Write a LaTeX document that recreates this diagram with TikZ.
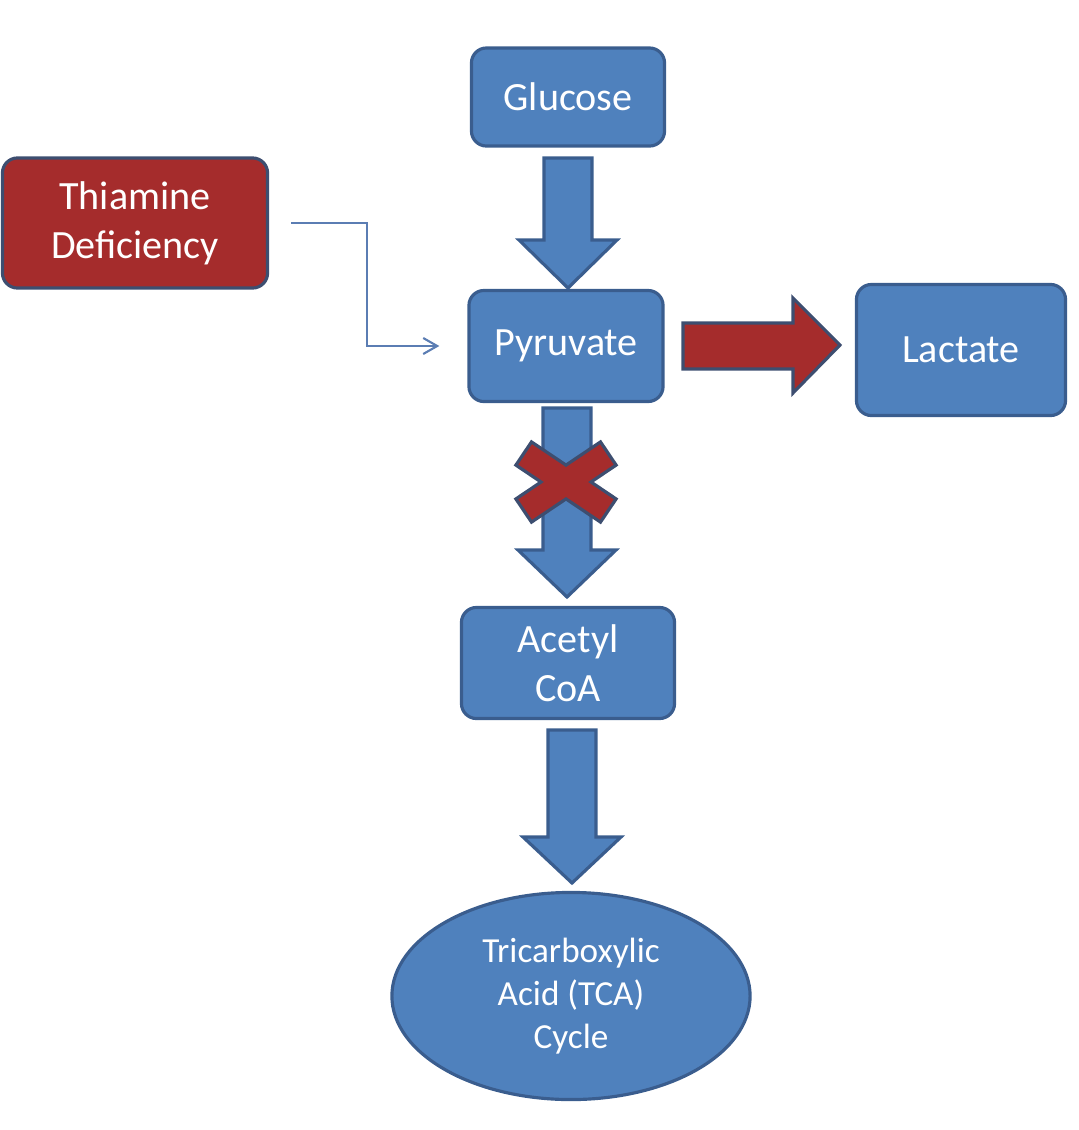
\documentclass[tikz,border=0pt]{standalone}
\usepackage{fontspec}
\setmainfont{Carlito}
\usetikzlibrary{shapes.geometric,arrows.meta}
\definecolor{boxblue}{HTML}{4F81BD}
\definecolor{boxedge}{HTML}{3A5D8E}
\definecolor{boxred}{HTML}{A52C2C}
\definecolor{rededge}{HTML}{3D4E70}
\definecolor{linkblue}{HTML}{5B7DB3}
\begin{document}
\begin{tikzpicture}[x=0.01cm,y=-0.01cm,
		stage/.style={draw=boxedge,line width=0.9pt,fill=boxblue,rounded corners=0.15cm,
			text=white,align=center,inner sep=0pt,font=\fontsize{11.4}{14}\selectfont},
		cause/.style={stage,fill=boxred,draw=rededge},
		cycle/.style={stage,ellipse,font=\fontsize{10}{12.2}\selectfont},
		fatarrow/.style={draw=boxedge,line width=0.9pt,fill=boxblue,line join=miter},
		redarrow/.style={draw=rededge,line width=0.9pt,fill=boxred,line join=miter},
		link/.style={draw=linkblue,line width=0.6pt,-{Straight Barb[length=0.14cm,width=0.16cm]}}]
		\useasboundingbox (0,0) rectangle (1078,1130);
		% boxes
		\node[stage,minimum width=1.93cm,minimum height=0.98cm] (glucose) at (568,97) {Glucose};
		\node[cause,minimum width=2.65cm,minimum height=1.30cm] (thiamine) at (135,223) {Thiamine\\Deficiency};
		\node[stage,minimum width=1.94cm,minimum height=1.11cm] (pyruvate) at (566,346) {Pyruvate};
		\node[stage,minimum width=2.09cm,minimum height=1.31cm] (lactate) at (961,350) {Lactate};
		\node[stage,minimum width=2.13cm,minimum height=1.11cm] (acetyl) at (568,663) {Acetyl\\CoA};
		\node[cycle,minimum width=3.58cm,minimum height=2.07cm] (tca) at (571,996) {Tricarboxylic\\Acid (TCA)\\Cycle};
		% block arrows down
		\foreach \cx/\top/\neck/\tip in {568/158/240/288, 567/408/550/597, 572/730/837/883}
			\draw[fatarrow] (\cx-24,\top) -- (\cx+24,\top) -- (\cx+24,\neck) -- (\cx+49,\neck)
				-- (\cx,\tip) -- (\cx-49,\neck) -- (\cx-24,\neck) -- cycle;
		% pyruvate to lactate
		\draw[redarrow] (683,323) -- (793,323) -- (793,298) -- (840,345) -- (793,393) -- (793,369) -- (683,369) -- cycle;
		% blocked step
		\draw[redarrow,shift={(566,482)}] (50.1,16.9) -- (34.5,40.1) -- (0,16.9) -- (-34.5,40.1) -- (-50.1,16.9)
			-- (-25,0) -- (-50.1,-16.9) -- (-34.5,-40.1) -- (0,-16.9) -- (34.5,-40.1) -- (50.1,-16.9) -- (25,0) -- cycle;
		% thiamine link
		\draw[link] ([xshift=0.22cm]thiamine.east) -- ++(76,0) |- ([xshift=-0.28cm]pyruvate.west);
	\end{tikzpicture}
\end{document}
